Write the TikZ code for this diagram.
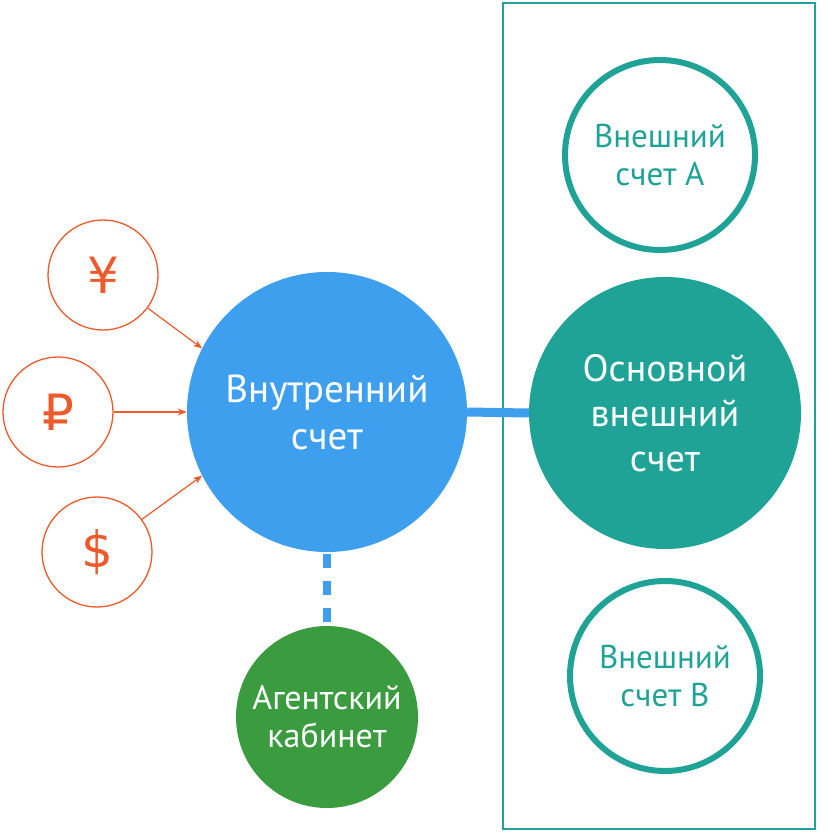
\documentclass[tikz,border=0pt]{standalone}
\usepackage{fontspec}
\setmainfont{PT Sans}
\newfontfamily\symfont{DejaVu Sans}
\usetikzlibrary{arrows.meta}
\definecolor{teal1}{HTML}{1FA397}
\definecolor{blue1}{HTML}{3F9FEF}
\definecolor{green1}{HTML}{3B9C3F}
\definecolor{orange1}{HTML}{EE5A2B}
\begin{document}
\begin{tikzpicture}[x=1pt,y=-1pt,
  cur/.style={circle,draw=orange1,line width=1.3pt,minimum size=110pt,inner sep=0pt,text=orange1,font=\symfont\fontsize{50}{60}\selectfont},
  ring/.style={circle,draw=teal1,line width=6pt,minimum size=190pt,inner sep=0pt,text=teal1,align=center,font=\fontsize{33}{38}\selectfont},
  big/.style={circle,inner sep=0pt,text=white,align=center},
  arr/.style={draw=orange1,line width=1.2pt,-{Stealth[length=9pt,width=7pt]}}]
\useasboundingbox (0,0) rectangle (830,834);
\fill[white] (0,0) rectangle (830,834);
\draw[teal1,line width=1.2pt] (503,3) rectangle (815,829);
\node[ring] (a) at (660,155) {Внешний\\счет A};
\node[ring] (b) at (665,676) {Внешний\\счет B};
\node[big,fill=teal1,minimum size=272pt,font=\fontsize{38}{45}\selectfont] (m) at (665,413) {Основной\\внешний\\счет};
\node[big,fill=blue1,minimum size=280pt,font=\fontsize{39}{47}\selectfont] (i) at (327,412) {Внутренний\\счет};
\node[big,fill=green1,minimum size=182pt,font=\fontsize{34}{38}\selectfont] (g) at (327,717) {Агентский\\кабинет};
\draw[blue1,line width=9pt] (i.east) -- (m.west);
\draw[blue1,line width=8pt,dash pattern=on 14pt off 13pt,dash phase=-2pt] (i.south) -- (g.north);
\node[cur] (y) at (103,275) {¥};
\node[cur] (r) at (58,412) {₽};
\node[cur] (d) at (97,552) {\$};
\draw[arr] (y) -- (i.153);
\draw[arr] (r) -- (i.west);
\draw[arr] (d) -- (i.207);
\end{tikzpicture}
\end{document}
